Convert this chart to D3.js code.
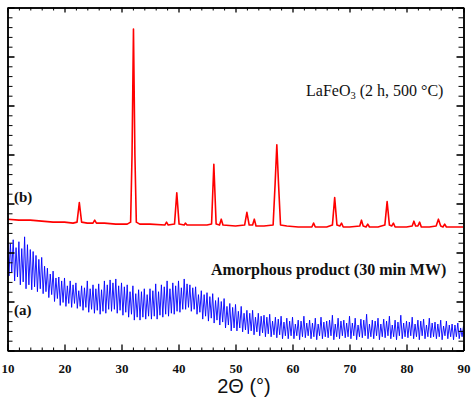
<!DOCTYPE html>
<html>
<head>
<meta charset="utf-8">
<script src="https://cdn.jsdelivr.net/npm/d3@7"></script>
<style>
  html, body { margin: 0; padding: 0; background: #ffffff; }
  svg { display: block; }
</style>
</head>
<body>
<script>
// ---------------- DATA ----------------
// x-axis tick labels (2θ, degrees)
const xTickLabels = [10, 20, 30, 40, 50, 60, 70, 80, 90];
// y axis (arbitrary intensity units, no labels)
const yMajorTicks = [0, 50, 100, 150, 200, 250, 300, 350];

// (b) LaFeO3 (2 h, 500 °C) pattern: 2θ and intensity
const redTheta = [10, 12, 14, 16, 18, 20, 21.5, 22.2, 22.6, 23.0, 24, 25.0, 25.3, 25.6, 27, 29, 31.0, 31.6, 31.85, 32.1, 32.35, 32.6, 33.2, 35,
  37.6, 37.9, 38.2, 39.3, 39.7, 40.1, 41.0, 41.2, 41.5, 43, 45, 45.8, 46.2, 46.6, 47.2, 47.5, 47.8, 50, 51.6, 52.0, 52.4, 53.0, 53.3, 53.6, 55,
  56.6, 56.95, 57.25, 57.55, 57.9, 59, 61, 63.4, 63.7, 64.0, 66, 67.0, 67.4, 67.8, 68.3, 68.6, 68.9, 70, 71.8, 72.1, 72.4, 72.9, 73.2, 73.5, 75,
  76.2, 76.6, 77.0, 77.4, 77.7, 78.0, 80, 81.0, 81.3, 81.6, 82.0, 82.3, 82.6, 84, 85.2, 85.6, 86.0, 86.4, 86.7, 87.0, 88, 90];
const redIntensity = [134, 133, 133, 132, 131, 131, 130, 131, 151, 131, 130, 130, 133, 130, 130, 129, 129, 131, 200, 328, 200, 131, 129, 129,
  128, 131, 128, 129, 161, 129, 128, 130, 128, 128, 128, 129, 190, 129, 128, 134, 128, 127, 128, 141, 128, 128, 134, 127, 127,
  128, 170, 210, 170, 128, 127, 126, 126, 130, 126, 126, 128, 156, 128, 127, 130, 126, 126, 127, 133, 127, 126, 129, 126, 126,
  128, 152, 128, 127, 130, 126, 126, 127, 132, 127, 127, 131, 126, 126, 127, 134, 127, 126, 129, 126, 126, 126];

// (a) Amorphous product (30 min MW): noisy band, upper and lower excursions every 0.5° from 10° to 90°
const blueStart = 10, blueStep = 0.5;
const blueUpper = [
  115,109,113,105,111,104,116,108,103,101,
  97,93,95,86,84,78,81,74,75,71,
  74,66,71,67,69,61,66,64,71,63,
  67,63,68,62,71,67,72,69,73,66,
  69,65,67,60,66,58,62,60,63,57,
  63,61,68,60,67,65,71,63,69,66,
  71,64,73,68,67,64,65,57,61,57,
  59,55,58,51,54,50,53,45,48,44,
  47,40,45,38,41,38,41,34,38,35,
  36,34,37,30,34,32,35,29,33,30,
  34,27,31,30,35,28,31,28,33,27,
  34,29,30,31,36,27,33,30,31,28,
  35,28,33,26,32,31,37,27,31,30,
  33,27,32,30,35,26,31,29,36,28,
  30,29,34,27,31,30,32,26,33,28,
  29,27,31,25,30,26,27,26,28,23,
  25];
const blueLower = [
  76,80,71,75,67,70,63,67,62,65,
  60,63,58,60,54,57,50,53,46,49,
  45,48,44,48,43,45,41,44,39,42,
  38,41,37,40,38,42,40,42,38,41,
  36,39,34,37,31,34,31,34,32,35,
  32,35,32,36,34,37,35,38,37,40,
  39,42,42,44,40,42,37,39,32,35,
  30,33,28,31,26,29,23,26,20,23,
  20,23,19,21,17,20,16,19,15,18,
  14,17,14,16,13,16,12,15,12,15,
  12,15,11,14,13,15,12,14,11,15,
  12,14,13,15,11,14,12,15,13,14,
  12,15,11,14,13,15,12,14,12,15,
  11,14,13,15,12,14,11,15,12,14,
  13,15,12,14,11,15,12,14,13,14,
  12,14,11,15,12,14,11,14,12,14,
  13];

const labelB = "LaFeO";
const labelA = "Amorphous product (30 min MW)";
const axisTitle = "2Θ (°)";

// ---------------- CHART ----------------
const W = 474, H = 398;
const mLeft = 7.5, mRight = 463.5, mTop = 7.5, mBottom = 350.5;

const svg = d3.select("body").append("svg").attr("width", W).attr("height", H);

const x = d3.scaleLinear().domain([10, 90]).range([mLeft, mRight]);
const y = d3.scaleLinear().domain([0, 350]).range([mBottom, mTop]);

svg.append("clipPath").attr("id", "plotclip")
  .append("rect").attr("x", mLeft).attr("y", mTop).attr("width", mRight - mLeft).attr("height", mBottom - mTop);

const plot = svg.append("g").attr("clip-path", "url(#plotclip)");

// blue band: solid core plus the spiky noise trace
const blueRows = blueUpper.map((u, i) => ({ t: blueStart + i * blueStep, hi: u, lo: blueLower[i] }));
const inset = 2.5; // px, style only
plot.append("path")
  .datum(blueRows)
  .attr("fill", "#0000ff")
  .attr("d", d3.area().curve(d3.curveBasis)
    .x(d => x(d.t))
    .y0(d => Math.min(y(d.lo) - inset, (y(d.lo) + y(d.hi)) / 2))
    .y1(d => Math.max(y(d.hi) + inset, (y(d.lo) + y(d.hi)) / 2)));

const bluePts = [];
blueRows.forEach(d => {
  bluePts.push([d.t, d.hi]);
  bluePts.push([d.t + blueStep / 2, d.lo]);
});
plot.append("path")
  .datum(bluePts)
  .attr("fill", "none")
  .attr("stroke", "#0000ff")
  .attr("stroke-width", 0.9)
  .attr("d", d3.line().x(d => x(d[0])).y(d => y(d[1])));

// red trace
const redPts = redTheta.map((t, i) => [t, redIntensity[i]]);
plot.append("path")
  .datum(redPts)
  .attr("fill", "none")
  .attr("stroke", "#ff0000")
  .attr("stroke-width", 1.6)
  .attr("stroke-linejoin", "round")
  .attr("d", d3.line().x(d => x(d[0])).y(d => y(d[1])));

// axes
const xMinor = d3.range(10, 90.001, 2).filter(v => v % 10 !== 0);
const yMinor = d3.range(0, 350.001, 10).filter(v => v % 50 !== 0);

function styleAxis(g) {
  g.selectAll("path.domain").attr("stroke", "#000").attr("stroke-width", 1.5);
  g.selectAll(".tick line").attr("stroke", "#000");
}

// bottom
svg.append("g").attr("transform", `translate(0,${mBottom})`)
  .call(d3.axisBottom(x).tickValues(xTickLabels).tickSize(-6).tickSizeOuter(0).tickPadding(13).tickFormat(d3.format("d")))
  .call(styleAxis)
  .call(g => g.selectAll(".tick line").attr("stroke-width", 1.3))
  .call(g => g.selectAll("text")
    .attr("font-family", "'Liberation Serif', 'Times New Roman', serif")
    .attr("font-weight", "bold").attr("font-size", 13).attr("fill", "#111"));
svg.append("g").attr("transform", `translate(0,${mBottom})`)
  .call(d3.axisBottom(x).tickValues(xMinor).tickSize(-3).tickSizeOuter(0).tickFormat(""))
  .call(styleAxis);

// top
svg.append("g").attr("transform", `translate(0,${mTop})`)
  .call(d3.axisTop(x).tickValues(xTickLabels).tickSize(-5).tickSizeOuter(0).tickFormat(""))
  .call(styleAxis)
  .call(g => g.selectAll(".tick line").attr("stroke-width", 1.3));
svg.append("g").attr("transform", `translate(0,${mTop})`)
  .call(d3.axisTop(x).tickValues(xMinor).tickSize(-3).tickSizeOuter(0).tickFormat(""))
  .call(styleAxis);

// left
svg.append("g").attr("transform", `translate(${mLeft},0)`)
  .call(d3.axisLeft(y).tickValues(yMajorTicks).tickSize(-7).tickSizeOuter(0).tickFormat(""))
  .call(styleAxis)
  .call(g => g.selectAll(".tick line").attr("stroke-width", 1.6));
svg.append("g").attr("transform", `translate(${mLeft},0)`)
  .call(d3.axisLeft(y).tickValues(yMinor).tickSize(-5).tickSizeOuter(0).tickFormat(""))
  .call(styleAxis);

// right
svg.append("g").attr("transform", `translate(${mRight},0)`)
  .call(d3.axisRight(y).tickValues(yMajorTicks).tickSize(-7).tickSizeOuter(0).tickFormat(""))
  .call(styleAxis)
  .call(g => g.selectAll(".tick line").attr("stroke-width", 1.6));
svg.append("g").attr("transform", `translate(${mRight},0)`)
  .call(d3.axisRight(y).tickValues(yMinor).tickSize(-5).tickSizeOuter(0).tickFormat(""))
  .call(styleAxis);

// text labels
const serif = "'Liberation Serif', 'Times New Roman', serif";
const tB = svg.append("text").attr("x", 306).attr("y", 96)
  .attr("font-family", serif).attr("font-size", 16).attr("fill", "#111");
tB.append("tspan").text(labelB);
tB.append("tspan").attr("font-size", 10.5).attr("dy", 3).text("3");
tB.append("tspan").attr("dy", -3).text(" (2 h, 500 °C)");

svg.append("text").attr("x", 211).attr("y", 275)
  .attr("font-family", serif).attr("font-weight", "bold").attr("font-size", 16).attr("fill", "#111")
  .text(labelA);

svg.append("text").attr("x", 14).attr("y", 202)
  .attr("font-family", serif).attr("font-weight", "bold").attr("font-size", 15).attr("fill", "#111")
  .text("(b)");
svg.append("text").attr("x", 14).attr("y", 315)
  .attr("font-family", serif).attr("font-weight", "bold").attr("font-size", 15).attr("fill", "#111")
  .text("(a)");

svg.append("text").attr("x", 244).attr("y", 393).attr("text-anchor", "middle")
  .attr("font-family", "'Liberation Sans', Arial, sans-serif").attr("font-size", 20).attr("fill", "#111")
  .text(axisTitle);
</script>
</body>
</html>
